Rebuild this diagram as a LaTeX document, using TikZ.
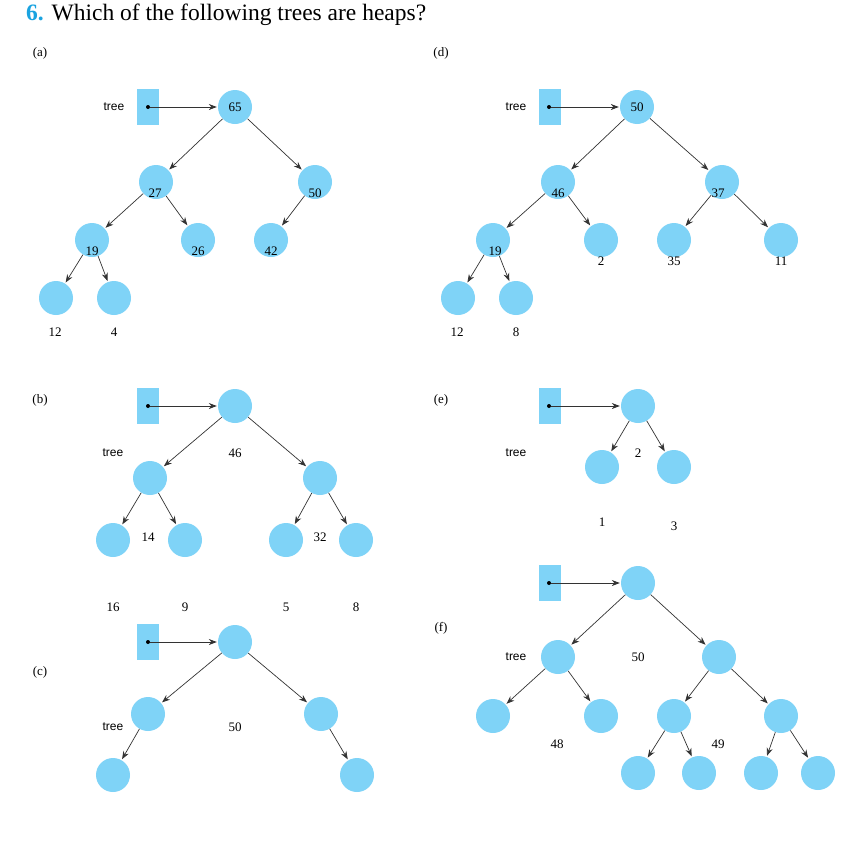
\documentclass[tikz,border=0pt]{standalone}
\usepackage{fontspec}
\setmainfont{Liberation Serif}
\newfontfamily\sansf{Liberation Sans}
\usetikzlibrary{arrows.meta}
\definecolor{cb}{HTML}{7FD3F7}
\definecolor{tb}{HTML}{1AA3E0}
\begin{document}
\begin{tikzpicture}[x=1pt,y=-1pt,
  c/.style={circle,fill=cb,minimum size=34pt,inner sep=0pt},
  bx/.style={fill=cb,minimum width=22pt,minimum height=36pt,inner sep=0pt},
  dt/.style={circle,fill=black,inner sep=0pt,minimum size=4pt},
  lb/.style={font=\fontsize{13}{15}\selectfont,inner sep=0pt},
  tl/.style={font=\sansf\fontsize{12}{14}\selectfont,inner sep=0pt},
  e/.style={draw=black!80,line width=0.7pt,-{Stealth[length=8pt,width=6pt]},shorten >=1pt}]
\useasboundingbox (0,0) rectangle (846,846);
\node[anchor=west,inner sep=0pt,font=\fontsize{23.5}{27}\selectfont] (title) at (26,15) {\textcolor{tb}{\textbf{6.}} Which of the following trees are heaps?};
% part labels
\foreach \n/\t/\x/\y in {pa/(a)/40/53,pd/(d)/441/53,pb/(b)/40/400,pe/(e)/441/400,pc/(c)/40/672,pf/(f)/441/628}
  \node[lb] (\n) at (\x,\y) {\t};
% ---- (a)
\node[bx] (abx) at (148,107) {}; \node[dt] (adt) at (148,107) {};
\node[tl] (atr) at (114,107) {tree};
\node[c] (a1) at (235,107) {}; \node[c] (a2) at (156,182) {}; \node[c] (a3) at (315,182) {};
\node[c] (a4) at (92,240) {}; \node[c] (a5) at (198,240) {}; \node[c] (a6) at (271,240) {};
\node[c] (a7) at (56,298) {}; \node[c] (a8) at (114,298) {};
\draw[e] (adt) -- (a1);
\foreach \a/\b in {a1/a2,a1/a3,a2/a4,a2/a5,a3/a6,a4/a7,a4/a8} \draw[e] (\a) -- (\b);
\foreach \t/\x/\y [count=\i] in {65/235/107,27/155/193,50/315/193,19/92/251,26/198/251,42/271/251,12/55/332,4/114/332}
  \node[lb] (al\i) at (\x,\y) {\t};
% ---- (d)
\node[bx] (dbx) at (550,107) {}; \node[dt] (ddt) at (549,107) {};
\node[tl] (dtr) at (516,107) {tree};
\node[c] (d1) at (637,107) {}; \node[c] (d2) at (558,182) {}; \node[c] (d3) at (722,182) {};
\node[c] (d4) at (493,240) {}; \node[c] (d5) at (601,240) {}; \node[c] (d6) at (674,240) {}; \node[c] (d7) at (781,240) {};
\node[c] (d8) at (458,298) {}; \node[c] (d9) at (516,298) {};
\draw[e] (ddt) -- (d1);
\foreach \a/\b in {d1/d2,d1/d3,d2/d4,d2/d5,d3/d6,d3/d7,d4/d8,d4/d9} \draw[e] (\a) -- (\b);
\foreach \t/\x/\y [count=\i] in {50/637/107,46/558/193,37/718/193,19/495/251,2/601/261,35/674/261,11/781/261,12/457/332,8/516/332}
  \node[lb] (dl\i) at (\x,\y) {\t};
% ---- (b)
\node[bx] (bbx) at (148,406) {}; \node[dt] (bdt) at (148,406) {};
\node[c] (b1) at (235,406) {}; \node[c] (b2) at (150,478) {}; \node[c] (b3) at (320,478) {};
\node[c] (b4) at (113,540) {}; \node[c] (b5) at (185,540) {}; \node[c] (b6) at (286,540) {}; \node[c] (b7) at (356,540) {};
\draw[e] (bdt) -- (b1);
\foreach \a/\b in {b1/b2,b1/b3,b2/b4,b2/b5,b3/b6,b3/b7} \draw[e] (\a) -- (\b);
\node[tl] (btr) at (113,453) {tree};
\foreach \t/\x/\y [count=\i] in {46/235/453,14/148/537,32/320/537,16/113/607,9/185/607,5/286/607,8/356/607}
  \node[lb] (bl\i) at (\x,\y) {\t};
% ---- (c)
\node[bx] (cbx) at (148,642) {}; \node[dt] (cdt) at (148,642) {};
\node[c] (c1) at (235,642) {}; \node[c] (c2) at (148,714) {}; \node[c] (c3) at (321,714) {};
\node[c] (c4) at (113,775) {}; \node[c] (c5) at (357,775) {};
\draw[e] (cdt) -- (c1);
\foreach \a/\b in {c1/c2,c1/c3,c2/c4,c3/c5} \draw[e] (\a) -- (\b);
\node[tl] (ctr) at (113,727) {tree};
\node[lb] (cl1) at (235,727) {50};
% ---- (e)
\node[bx] (ebx) at (550,406) {}; \node[dt] (edt) at (549,406) {};
\node[c] (e1) at (638,406) {}; \node[c] (e2) at (602,467) {}; \node[c] (e3) at (674,467) {};
\draw[e] (edt) -- (e1);
\foreach \a/\b in {e1/e2,e1/e3} \draw[e] (\a) -- (\b);
\node[tl] (etr) at (516,453) {tree};
\foreach \t/\x/\y [count=\i] in {2/638/453,1/602/522,3/674/526}
  \node[lb] (el\i) at (\x,\y) {\t};
% ---- (f)
\node[bx] (fbx) at (550,583) {}; \node[dt] (fdt) at (549,583) {};
\node[c] (f1) at (638,583) {}; \node[c] (f2) at (558,657) {}; \node[c] (f3) at (719,657) {};
\node[c] (f4) at (493,716) {}; \node[c] (f5) at (601,716) {}; \node[c] (f6) at (674,716) {}; \node[c] (f7) at (781,716) {};
\node[c] (f8) at (638,773) {}; \node[c] (f9) at (699,773) {}; \node[c] (f10) at (761,773) {}; \node[c] (f11) at (818,773) {};
\draw[e] (fdt) -- (f1);
\foreach \a/\b in {f1/f2,f1/f3,f2/f4,f2/f5,f3/f6,f3/f7,f6/f8,f6/f9,f7/f10,f7/f11} \draw[e] (\a) -- (\b);
\node[tl] (ftr) at (516,657) {tree};
\foreach \t/\x/\y [count=\i] in {50/638/657,48/557/744,49/718/744}
  \node[lb] (fl\i) at (\x,\y) {\t};
\end{tikzpicture}
\end{document}
